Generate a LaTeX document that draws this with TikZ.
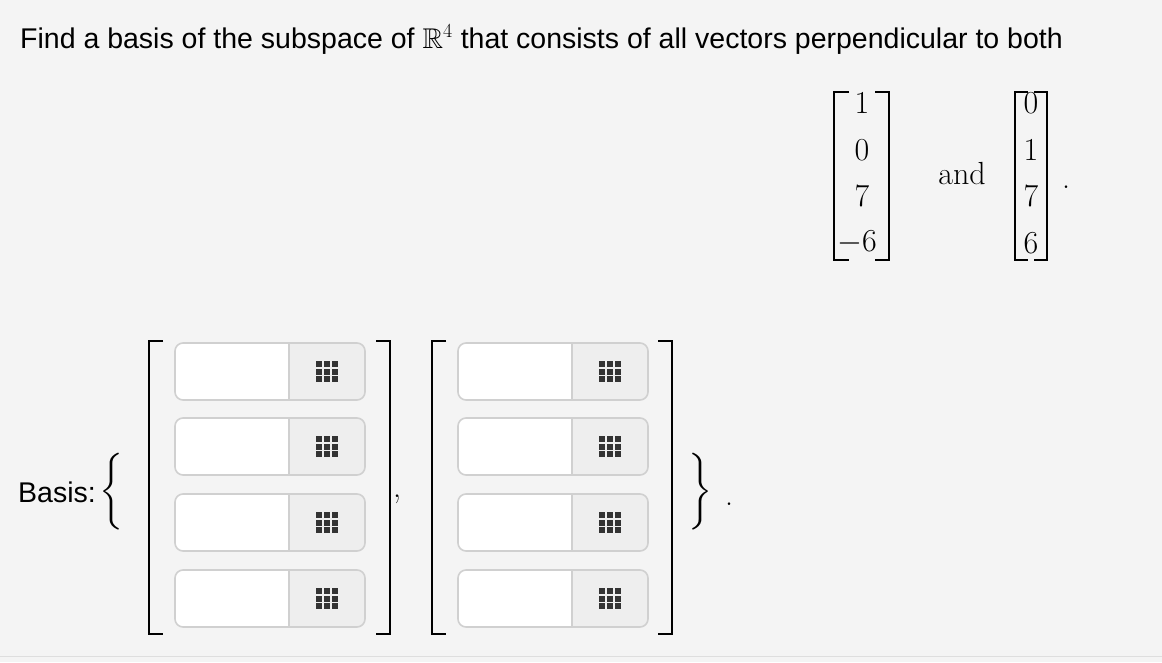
\RequirePackage{fix-cm}
\documentclass[tikz,border=0pt]{standalone}
\usepackage{amsmath,amssymb}
\usepackage{fontspec}
\newfontfamily\hsans{Liberation Sans}
\definecolor{bg}{HTML}{F4F4F4}
\definecolor{bd}{HTML}{D0D0D0}
\definecolor{btn}{HTML}{EEEEEE}
\definecolor{ico}{HTML}{333333}
\tikzset{
 sans/.style={font=\hsans\fontsize{28.5}{32}\selectfont, inner sep=0pt},
 mth/.style={font=\fontsize{32}{36}\selectfont, inner sep=0pt},
 brk/.style={line width=2.2pt},
}
\newcommand{\ansbox}[3]{% name, x, y (top)
 \fill[white,rounded corners=8pt] (#2,#3) rectangle ++(190,57);
 \fill[btn,rounded corners=8pt] (#2+114,#3) rectangle ++(76,57);
 \fill[btn] (#2+114,#3) rectangle ++(20,57);
 \draw[bd,line width=1.6pt,rounded corners=8pt] (#2,#3) rectangle ++(190,57);
 \draw[bd,line width=1.6pt] (#2+114,#3) -- ++(0,57);
 \coordinate (#1) at (#2+152,#3+28.5);
 \foreach \i in {-1,0,1}{\foreach \j in {-1,0,1}{
   \fill[ico] ($(#1)+(\i*8.3-3,\j*7.7-3)$) rectangle ++(6,6);}}
}
\usetikzlibrary{calc}
\begin{document}
\begin{tikzpicture}[x=1pt,y=-1pt]
\useasboundingbox (0,0) rectangle (1162,662);
\fill[bg] (0,0) rectangle (1162,662);
\draw[bd!70,line width=1pt] (0,656) -- (1162,656);
\node[sans,anchor=base west] (title) at (20,48) {Find a basis of the subspace of $\mathbb{R}^4$ that consists of all vectors perpendicular to both};
% vectors
\node[mth] (a1) at (862,103) {$1$};
\node[mth] (a2) at (862,150) {$0$};
\node[mth] (a3) at (862,196) {$7$};
\node[mth] (a4) at (857,243) {$-6$};
\draw[brk] (849,92) -- (834,92) -- (834,260) -- (849,260);
\draw[brk] (875,92) -- (889,92) -- (889,260) -- (875,260);
\node[mth,anchor=base] (and) at (962,184) {and};
\node[mth] (b1) at (1031,103) {$0$};
\node[mth] (b2) at (1031,150) {$1$};
\node[mth] (b3) at (1031,196) {$7$};
\node[mth] (b4) at (1031,243) {$6$};
\draw[brk] (1028,92) -- (1015,92) -- (1015,260) -- (1028,260);
\draw[brk] (1034,92) -- (1047,92) -- (1047,260) -- (1034,260);
\node[mth,anchor=base] (dot1) at (1066,188) {.};
% basis
\node[sans,anchor=base west] (basis) at (18,502) {Basis:};
\node[inner sep=0pt] (lb) at (112,492) {\fontsize{32}{36}\selectfont$\left\{\vphantom{\rule{1pt}{44pt}}\right.$};
\draw[brk] (163,341) -- (149,341) -- (149,634) -- (163,634);
\draw[brk] (376,341) -- (390,341) -- (390,634) -- (376,634);
\draw[brk] (446,341) -- (432,341) -- (432,634) -- (446,634);
\draw[brk] (658,341) -- (672,341) -- (672,634) -- (658,634);
\ansbox{p1}{175}{343}
\ansbox{p2}{175}{418}
\ansbox{p3}{175}{494}
\ansbox{p4}{175}{570}
\ansbox{q1}{458}{343}
\ansbox{q2}{458}{418}
\ansbox{q3}{458}{494}
\ansbox{q4}{458}{570}
\node[mth,anchor=base] (comma) at (397,497) {,};
\node[inner sep=0pt] (rb) at (700,492) {\fontsize{32}{36}\selectfont$\left.\vphantom{\rule{1pt}{44pt}}\right\}$};
\node[mth,anchor=base] (dot2) at (729,505) {.};
\end{tikzpicture}
\end{document}
